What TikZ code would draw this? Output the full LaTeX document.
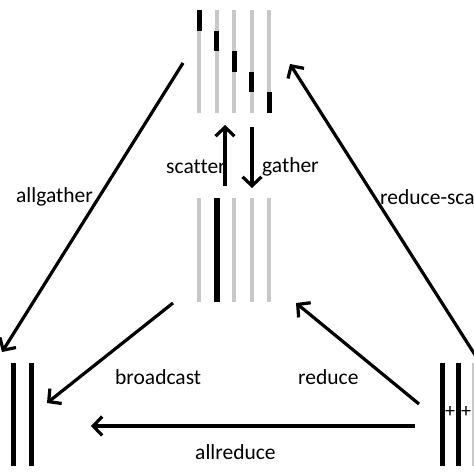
\documentclass[tikz,border=0pt]{standalone}
\usepackage{fontspec}
\setmainfont{Carlito}[Ligatures=CommonOff]
\usetikzlibrary{arrows.meta}
\definecolor{barGrey}{RGB}{200,200,200}
\begin{document}
\begin{tikzpicture}[x=1pt,y=-1pt,
  arr/.style={line width=3.2pt,-{Straight Barb[length=9pt,width=19pt,line width=3.2pt]}},
  lbl/.style={font=\fontsize{21.5}{24}\selectfont, inner sep=0pt, anchor=west},
  plus/.style={font=\fontsize{20}{22}\selectfont, inner sep=0pt},
  greybar/.style={draw=barGrey,line width=4pt},
  blackseg/.style={draw=black,line width=5pt},
  thickbar/.style={draw=black,line width=5pt}]
\useasboundingbox (0,0) rectangle (474,474);
\clip (0,0) rectangle (474,474);
\fill[white] (0,0) rectangle (474,474);
% top group (scattered data)
\foreach \i in {0,...,4}{
  \draw[greybar] ({199+17.5*\i},10) -- ({199+17.5*\i},113);
  \draw[blackseg] ({199+17.5*\i},{10+20.6*\i}) -- ({199+17.5*\i},{10+20.6*(\i+1)});
}
% middle group (one full buffer)
\foreach \i in {0,2,3,4}{
  \draw[greybar] ({199+17.5*\i},198) -- ({199+17.5*\i},302);
}
\draw[draw=black,line width=6pt] (216.5,198) -- (216.5,302);
% bottom left group
\draw[thickbar] (13,363) -- (13,466);
\draw[thickbar] (31,363) -- (31,466);
% bottom right group
\draw[thickbar] (442,363) -- (442,466);
\draw[thickbar] (458,363) -- (458,466);
\draw[greybar] (474,363) -- (474,466);
\node[plus] (p1) at (450,412) {+};
\node[plus] (p2) at (466,412) {+};
% arrow end points
\coordinate (agS) at (183,63);   \coordinate (agE) at (2,352);
\coordinate (rsS) at (477,358);  \coordinate (rsE) at (290,64);
\coordinate (scS) at (225,186);  \coordinate (scE) at (225,125);
\coordinate (gaS) at (252,127);  \coordinate (gaE) at (252,188);
\coordinate (bcS) at (173,303);  \coordinate (bcE) at (47,403);
\coordinate (rdS) at (419,404);  \coordinate (rdE) at (296,303);
\coordinate (arS) at (415,426);  \coordinate (arE) at (91,426);
\draw[arr] (agS) -- (agE);
\draw[arr] (rsS) -- (rsE);
\draw[arr] (scS) -- (scE);
\draw[arr] (gaS) -- (gaE);
\draw[arr] (bcS) -- (bcE);
\draw[arr] (rdS) -- (rdE);
\draw[arr] (arS) -- (arE);
% labels
\node[lbl] (tAg) at (16,197) {allgather};
\node[lbl] (tRs) at (380,197) {reduce-sca};
\node[lbl] (tSc) at (166,167) {scatter};
\node[lbl] (tGa) at (262,167) {gather};
\node[lbl] (tBc) at (115,377) {broadcast};
\node[lbl] (tRd) at (298,377) {reduce};
\node[lbl] (tAr) at (195,452) {allreduce};
\end{tikzpicture}
\end{document}
